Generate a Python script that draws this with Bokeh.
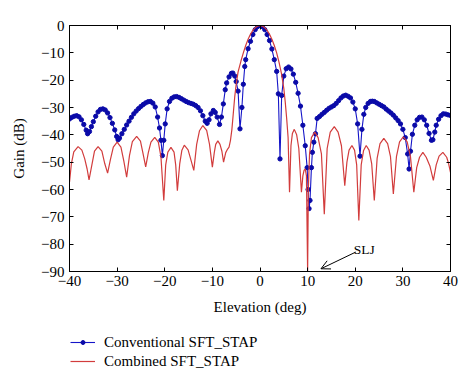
from bokeh.plotting import figure
from bokeh.layouts import column
from bokeh.models import (Range1d, FixedTicker, LinearAxis, Legend, LegendItem, Label,
                          Arrow, OpenHead, CustomJSTickFormatter, ColumnDataSource)
from bokeh.embed import file_html
from bokeh.resources import INLINE

# ---- data ----
conv_x = [-40, -39.5, -39, -38.5, -38, -37.5, -37, -36.5, -36.2, -35.8, -35.4, -35, -34.5, -34, -33.5, -33,
          -32.5, -32, -31.5, -31, -30.5, -30.1, -29.8, -29.5, -29, -28.5, -28, -27.5, -27, -26.5, -26, -25.5,
          -25, -24.5, -24, -23.5, -23, -22.5, -22, -21.5, -21.1, -20.8, -20.5, -20.2, -19.9, -19.5, -19, -18.5,
          -18, -17.5, -17, -16.5, -16, -15.5, -15, -14.5, -14, -13.5, -13, -12.5, -12, -11.5, -11.1, -10.7,
          -10.3, -9.8, -9.4, -9, -8.5, -8.1, -7.7, -7.3, -7, -6.5, -6, -5.7, -5.3, -5, -4.6, -4.2, -3.8, -3.5,
          -3.2, -3, -2.5, -2, -1.5, -1, -0.5, 0, 0.5, 1, 1.5, 2, 2.5, 3, 3.5, 3.85, 4.2, 4.55, 5, 5.5, 6, 6.5,
          7, 7.5, 8, 8.5, 9, 9.5, 9.9, 10.1, 10.3, 10.5, 10.8, 11, 11.3, 11.65, 12, 12.5, 13, 13.5, 14, 14.5,
          15, 15.5, 16, 16.5, 17, 17.5, 18, 18.5, 19, 19.5, 20, 20.5, 21, 21.4, 21.8, 22.2, 22.7, 23.2, 23.6,
          24, 24.5, 25, 25.5, 26, 26.5, 27, 27.5, 28, 28.5, 29, 29.5, 30, 30.5, 31, 31.3, 31.6, 32, 32.5, 33,
          33.5, 34, 34.5, 35, 35.5, 36, 36.3, 36.7, 37, 37.5, 38, 38.5, 39, 39.5, 40]
conv_y = [-34.2, -33.6, -33.2, -33.0, -33.4, -34.5, -36.2, -38.3, -39.6, -38.8, -37.0, -35.2, -33.2, -31.6,
          -30.7, -30.5, -30.9, -32.0, -33.7, -35.8, -38.2, -40.6, -41.8, -41.2, -39.6, -38.0, -36.4, -35.0,
          -33.6, -32.3, -31.3, -30.4, -29.6, -28.9, -28.3, -27.9, -27.8, -28.4, -29.8, -33.5, -37.5, -42.0,
          -47.6, -42.0, -36.0, -30.5, -27.8, -26.6, -26.1, -26.0, -26.3, -26.8, -27.3, -27.8, -28.2, -28.5,
          -28.8, -29.3, -30.0, -31.2, -33.0, -35.0, -35.8, -34.5, -32.3, -31.1, -31.8, -33.5, -36.2, -33.5,
          -28.7, -23.5, -21.0, -18.8, -17.5, -17.4, -18.5, -20.5, -24.0, -37.8, -30.0, -21.5, -15.0, -12.5,
          -8.5, -5.8, -3.3, -1.5, -0.4, 0.0, -0.4, -1.5, -3.3, -5.5, -8.6, -12.5, -16.8, -25.0, -48.8, -25.6,
          -18.5, -15.8, -15.2, -15.9, -17.8, -20.8, -24.8, -29.5, -36.5, -44.0, -52.0, -60.0, -67.0, -64.0,
          -52.0, -46.4, -42.7, -39.6, -34.0, -33.3, -32.5, -31.8, -31.0, -30.3, -29.8, -29.3, -28.5, -27.5,
          -26.5, -25.8, -25.5, -25.9, -26.5, -28.0, -30.5, -36.0, -47.8, -38.0, -32.5, -30.0, -28.5, -27.8,
          -27.7, -27.8, -28.3, -28.8, -29.3, -29.8, -30.6, -31.3, -32.0, -32.8, -33.8, -34.8, -36.0, -38.0,
          -41.0, -47.0, -52.5, -46.0, -39.8, -36.5, -34.5, -33.6, -33.5, -34.5, -36.5, -39.5, -42.0, -41.8,
          -39.0, -36.5, -34.3, -33.0, -32.3, -32.4, -32.7, -32.9]

comb_x = [-40, -39.6, -39.1, -38.2, -37.4, -36.8, -36.3, -35.9,
          -35.3, -34.75, -34.0, -33.2, -32.6, -32.0,
          -31.4, -30.8, -30.0, -29.2, -28.6, -28.0,
          -27.4, -26.8, -25.9, -25.1, -24.6, -24.0,
          -23.45, -22.9, -22.1, -21.35, -20.8, -20.2,
          -19.8, -19.35, -18.7, -18.05, -17.7, -17.35,
          -16.85, -16.4, -15.9, -15.1, -14.45, -13.9,
          -13.3, -12.7, -12.0, -11.2, -10.6, -10.0,
          -9.6, -9.3, -8.85, -8.4, -8.0, -7.65,
          -7.2, -6.8, -6.5, -6.2, -5.9, -5.6, -5.3, -5.0, -4.6, -4.0, -3.5, -3.0, -2.5, -2.0, -1.5, -1.0,
          -0.5, 0, 0.5, 1.0, 1.5, 2.0, 2.5, 3.0, 3.5, 4.0, 4.5, 5.0, 5.3, 5.6, 5.9, 6.2,
          6.5, 6.8, 7.2, 7.7, 8.15, 8.7,
          9.0, 9.25, 9.5, 9.75, 10.0,
          10.15, 10.4, 10.8, 11.5, 12.2, 12.9, 13.5,
          14.1, 14.75, 15.6, 16.4, 17.1, 17.8,
          18.25, 18.7, 19.3, 19.85, 20.3, 20.75,
          21.25, 21.75, 22.3, 22.9, 23.45, 24.0,
          24.6, 25.2, 26.0, 26.8, 27.4, 28.0,
          28.65, 29.3, 30.1, 30.9, 31.6, 32.3,
          32.9, 33.5, 34.2, 34.9, 35.7, 36.4,
          37.0, 37.6, 38.4, 39.2, 39.6, 40]
comb_y = [-57.3, -50.5, -46.2, -44.3, -45.6, -48.8, -52.5, -56.5,
          -51.0, -46.0, -44.3, -46.0, -50.5, -54.0,
          -49.0, -44.5, -42.7, -44.5, -49.5, -55.5,
          -47.5, -42.5, -40.6, -42.3, -46.5, -51.7,
          -46.5, -42.7, -40.9, -42.7, -48.0, -64.0,
          -51.0, -46.3, -44.6, -46.3, -51.0, -60.4,
          -50.5, -45.6, -43.8, -45.5, -49.5, -53.0,
          -43.5, -38.5, -36.6, -38.4, -43.5, -51.8,
          -46.5, -43.5, -42.2, -43.5, -46.0, -50.0,
          -46.5, -45.2, -44.5, -42.0, -38.0, -32.0, -26.0, -21.5, -17.0, -13.0, -10.0, -7.3, -5.0, -3.2,
          -1.8, -0.8, -0.2, 0.0, -0.2, -0.8, -1.8, -3.2, -5.0, -7.3, -10.0, -13.5, -17.5, -23.0, -28.0,
          -34.0, -41.0, -61.0,
          -44.0, -39.5, -38.0, -40.0, -45.0, -61.0,
          -55.0, -53.0, -52.5, -55.0, -90.0,
          -60.0, -47.0, -41.0, -39.0, -41.0, -47.0, -69.0,
          -45.0, -39.0, -37.0, -39.0, -44.0, -58.6,
          -50.0, -45.6, -43.9, -45.6, -51.0, -71.3,
          -51.0, -45.7, -43.9, -45.6, -50.5, -64.0,
          -48.5, -43.2, -41.3, -43.2, -48.0, -61.6,
          -48.0, -42.6, -40.7, -42.6, -48.0, -61.0,
          -52.0, -48.2, -46.4, -48.2, -51.5, -56.7,
          -51.0, -47.8, -46.4, -48.2, -50.5, -53.7]

x_ticks = [-40, -30, -20, -10, 0, 10, 20, 30, 40]
y_ticks = [-90, -80, -70, -60, -50, -40, -30, -20, -10, 0]
series_names = ["Conventional SFT_STAP", "Combined SFT_STAP"]

FONT = "Liberation Serif"
BLUE = "#1515c8"
DOT = "#0a0aa8"
RED = "#d23c3c"

p = figure(width=470, height=319, min_border_left=69, min_border_right=20,
           min_border_top=25, min_border_bottom=48,
           x_range=Range1d(-40, 40), y_range=Range1d(-90, 0),
           output_backend="svg", toolbar_location=None)
p.xgrid.visible = False
p.ygrid.visible = False
p.outline_line_color = "black"
p.outline_line_width = 1
p.outline_line_alpha = 1
p.background_fill_color = "white"
p.border_fill_color = "white"

conv_src = ColumnDataSource(dict(x=conv_x, y=conv_y))
comb_src = ColumnDataSource(dict(x=comb_x, y=comb_y))

r_cl = p.line("x", "y", source=conv_src, line_color=BLUE, line_width=1.1)
r_cs = p.scatter("x", "y", source=conv_src, size=4.3, fill_color=DOT, line_color=DOT, marker="circle")
r_red = p.line("x", "y", source=comb_src, line_color=RED, line_width=1.2)

fmt = CustomJSTickFormatter(code="return tick < 0 ? '\u2212' + Math.abs(tick) : String(tick);")

def style_axis(ax, ticks, show_labels):
    ax.ticker = FixedTicker(ticks=ticks)
    ax.formatter = fmt
    ax.axis_line_color = "black"
    ax.major_tick_line_color = "black"
    ax.major_tick_in = 4
    ax.major_tick_out = 0
    ax.minor_tick_line_color = None
    ax.major_label_text_font = FONT
    ax.major_label_text_font_size = "15px"
    ax.major_label_text_color = "black"
    ax.axis_label_text_font = FONT
    ax.axis_label_text_font_size = "15px"
    ax.axis_label_text_font_style = "normal"
    ax.axis_label_text_color = "black"
    if not show_labels:
        ax.major_label_text_alpha = 0
        ax.major_label_text_font_size = "1px"

xa = p.xaxis[0]
style_axis(xa, x_ticks, True)
xa.axis_label = "Elevation (deg)"
xa.major_label_standoff = 4
xa.axis_label_standoff = 10

ya = p.yaxis[0]
style_axis(ya, y_ticks, True)
ya.axis_label = "Gain (dB)"
ya.major_label_standoff = 5
ya.axis_label_standoff = 11

top = LinearAxis()
style_axis(top, x_ticks, False)
p.add_layout(top, "above")
right = LinearAxis()
style_axis(right, y_ticks, False)
p.add_layout(right, "right")

p.add_layout(Label(x=21.9, y=-82.0, text="SLJ", text_font=FONT, text_font_size="13.5px",
                   text_align="center", text_baseline="alphabetic", text_color="black"))
p.add_layout(Arrow(end=OpenHead(size=9, line_width=1, line_color="black"),
                   x_start=20.1, y_start=-82.9, x_end=12.8, y_end=-89.0,
                   line_width=1, line_color="black"))

# ---- legend strip below the plot (keys drawn with the same styles) ----
q = figure(width=470, height=52, min_border=0, x_range=Range1d(0, 1), y_range=Range1d(0, 1),
           x_axis_type=None, y_axis_type=None, output_backend="svg", toolbar_location=None)
q.xgrid.visible = False
q.ygrid.visible = False
q.outline_line_color = None
q.background_fill_color = "white"
q.border_fill_color = "white"
key_src = ColumnDataSource(dict(x=[5], y=[5]))
k_cl = q.line("x", "y", source=key_src, line_color=BLUE, line_width=1.1)
k_cs = q.scatter("x", "y", source=key_src, size=4, fill_color=DOT, line_color=DOT, marker="circle")
k_red = q.line("x", "y", source=key_src, line_color=RED, line_width=1.2)

legend = Legend(items=[LegendItem(label=series_names[0], renderers=[k_cl, k_cs]),
                       LegendItem(label=series_names[1], renderers=[k_red])],
                location=(1, 1.5))
legend.border_line_color = None
legend.background_fill_alpha = 0
legend.padding = 0
legend.margin = 0
legend.spacing = 2
legend.label_height = 10
legend.glyph_height = 10
legend.glyph_width = 25
legend.label_standoff = 9
legend.label_text_font = FONT
legend.label_text_font_size = "15px"
legend.label_text_color = "black"
q.add_layout(legend)

open("out.html", "w").write(file_html(column(p, q), INLINE))
